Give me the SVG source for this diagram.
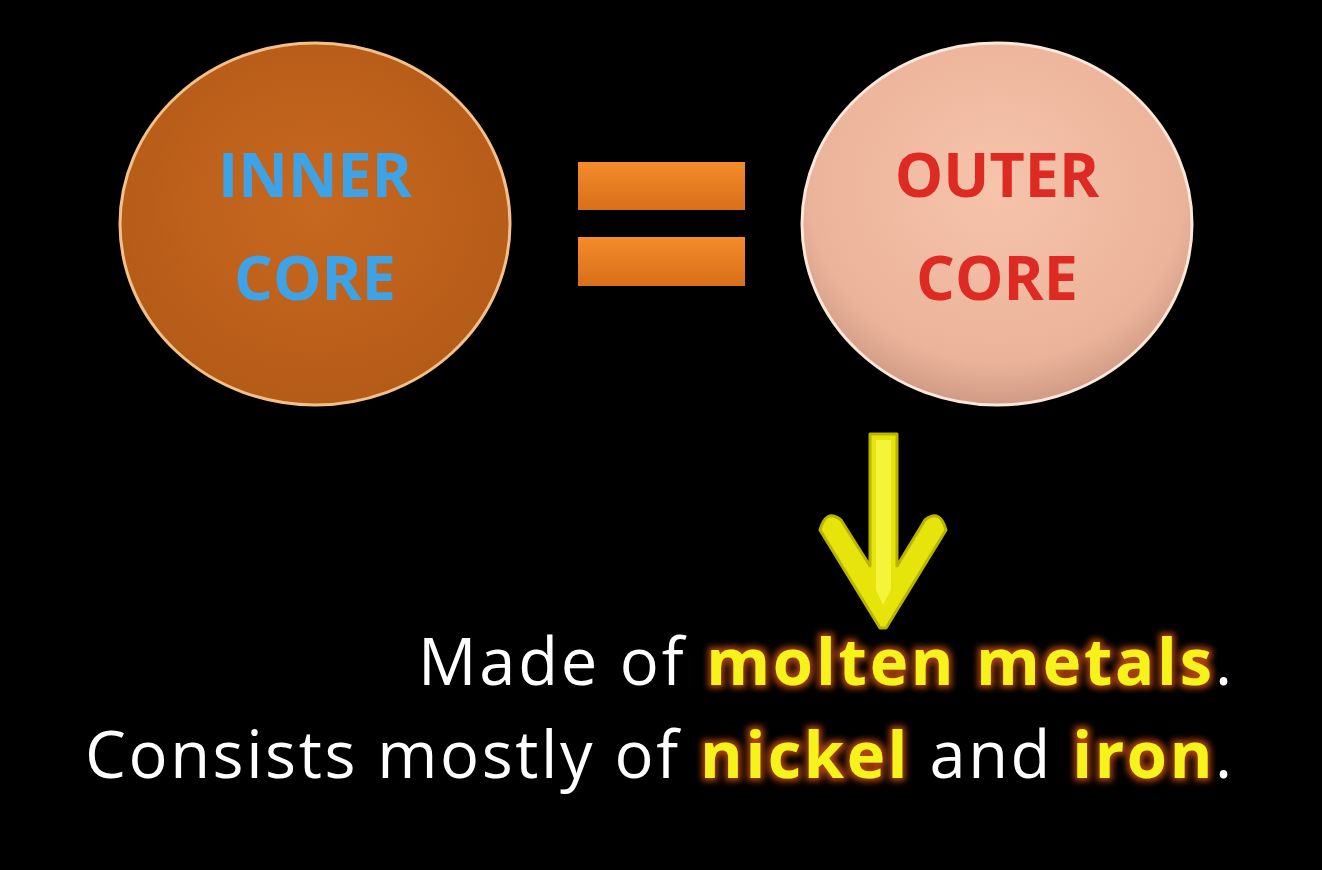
<svg xmlns="http://www.w3.org/2000/svg" width="1322" height="870" viewBox="0 0 1322 870">
<defs>
<radialGradient id="g1" cx="0.5" cy="0.45" r="0.6"><stop offset="0" stop-color="#c8681f"/><stop offset="1" stop-color="#b35a18"/></radialGradient>
<radialGradient id="g2" cx="0.5" cy="0.4" r="0.6"><stop offset="0" stop-color="#f6c4ab"/><stop offset="0.8" stop-color="#ebb39a"/><stop offset="1" stop-color="#cf9a84"/></radialGradient>
<linearGradient id="bar" x1="0" y1="0" x2="0" y2="1"><stop offset="0" stop-color="#f58b2a"/><stop offset="1" stop-color="#d86f1a"/></linearGradient>
<filter id="glow" x="-10%" y="-30%" width="120%" height="160%">
<feMorphology in="SourceAlpha" operator="dilate" radius="3" result="d"/>
<feGaussianBlur in="d" stdDeviation="3" result="b"/>
<feFlood flood-color="#c04a10" flood-opacity="0.9"/>
<feComposite in2="b" operator="in" result="gl"/>
<feMerge><feMergeNode in="gl"/><feMergeNode in="SourceGraphic"/></feMerge>
</filter>
<style>
.t{font-family:"Open Sans","Liberation Sans",sans-serif;font-weight:bold;font-size:61px;text-anchor:middle}
.s{font-family:"Open Sans","Liberation Sans",sans-serif;font-size:65px;fill:#fff}
.h{font-weight:bold;fill:#f5f21a;filter:url(#glow)}
</style>
</defs>
<rect width="1322" height="870" fill="#000"/>
<g id="inner-core">
<ellipse cx="315" cy="224" rx="195" ry="181" fill="url(#g1)" stroke="#f3c08a" stroke-width="3"/>
<text class="t" x="315" y="197" fill="#3ea3e6">INNER</text>
<text class="t" x="315" y="300" fill="#3ea3e6">CORE</text>
</g>
<g id="equals">
<rect x="578" y="162" width="167" height="48" fill="url(#bar)"/>
<rect x="578" y="237" width="167" height="49" fill="url(#bar)"/>
</g>
<g id="outer-core">
<ellipse cx="997" cy="224" rx="195" ry="181" fill="url(#g2)" stroke="#fbe6da" stroke-width="3"/>
<text class="t" x="997" y="197" fill="#dd2a23">OUTER</text>
<text class="t" x="997" y="300" fill="#dd2a23">CORE</text>
</g>
<g id="connectors">
<path d="M870,434 L897,434 L897,566 L925,520 Q940,508 946,530 L886,628 L880,628 L820,530 Q826,508 841,520 L870,566 Z" fill="#e6e40a" stroke="#b8b400" stroke-width="3" stroke-linejoin="round"/>
<path d="M876,440 L891,440 L891,590 L883,605 L876,590 Z" fill="#f5f33a"/>
</g>
<g id="caption">
<text class="s" x="418" y="685" textLength="814" lengthAdjust="spacing">Made of <tspan class="h">molten metals</tspan>.</text>
<text class="s" x="85" y="778" textLength="1147" lengthAdjust="spacing">Consists mostly of <tspan class="h">nickel</tspan> and <tspan class="h">iron</tspan>.</text>
</g>
</svg>
